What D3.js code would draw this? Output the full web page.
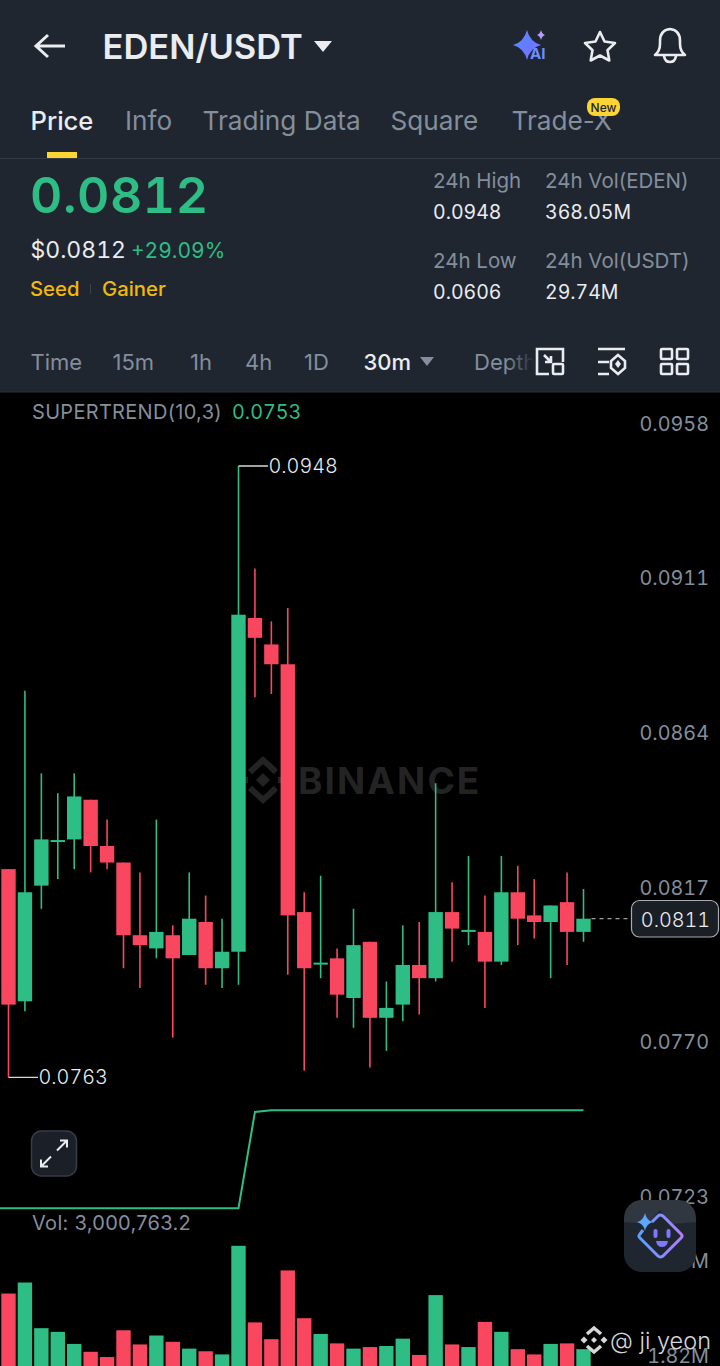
<!DOCTYPE html>
<html>
<head>
<meta charset="utf-8">
<title>EDEN/USDT</title>
<script src="https://cdn.jsdelivr.net/npm/d3@7"></script>
<style>
  html, body { margin: 0; padding: 0; background: #000; overflow: hidden; }
  svg { display: block; font-family: Inter, "Noto Sans", sans-serif; }
  .num { font-variant-numeric: tabular-nums; }
</style>
</head>
<body>
<svg id="chart" width="720" height="1366"></svg>
<script>
// ---- candle data ----
const opens = [0.0826, 0.0786, 0.0821, 0.08345, 0.0835, 0.0847, 0.0833, 0.0828, 0.0806, 0.0802, 0.0806, 0.0800,
  0.0810, 0.0796, 0.0801, 0.0902, 0.0894, 0.0888, 0.0813, 0.07974, 0.0799, 0.0787, 0.0804, 0.0781,
  0.0785, 0.0797, 0.0793, 0.0813, 0.08073, 0.0807, 0.0798, 0.0819, 0.0812, 0.0810, 0.0816, 0.0807];
const closes = [0.0785, 0.0819, 0.0835, 0.08345, 0.0848, 0.0833, 0.0828, 0.0806, 0.0803, 0.0807, 0.0799, 0.0811,
  0.0796, 0.0801, 0.0903, 0.0896, 0.0888, 0.0812, 0.0796, 0.07974, 0.0788, 0.0803, 0.0781, 0.0784,
  0.0797, 0.0793, 0.0813, 0.0808, 0.08073, 0.0798, 0.0819, 0.0811, 0.0810, 0.0815, 0.0807, 0.0811];
const highs = [0.0826, 0.0880, 0.0855, 0.0849, 0.0855, 0.0847, 0.0841, 0.0828, 0.0825, 0.0841, 0.0809, 0.0825,
  0.0818, 0.0811, 0.0948, 0.0917, 0.0901, 0.0905, 0.0819, 0.0824, 0.0802, 0.0814, 0.0804, 0.0792,
  0.0809, 0.0810, 0.0852, 0.0822, 0.0830, 0.0818, 0.0830, 0.0827, 0.0823, 0.0815, 0.0825, 0.0820];
const lows = [0.0763, 0.0783, 0.0814, 0.0823, 0.0826, 0.0825, 0.0826, 0.0796, 0.0790, 0.0799, 0.0775, 0.0800,
  0.0791, 0.0790, 0.0791, 0.0878, 0.0879, 0.0794, 0.0765, 0.0793, 0.0781, 0.0778, 0.0766, 0.0771,
  0.0780, 0.0782, 0.0792, 0.0798, 0.0803, 0.0784, 0.0797, 0.0803, 0.0805, 0.0793, 0.0797, 0.0804];
// volumes in millions
const volumes = [3.22, 3.43, 2.56, 2.49, 2.26, 2.11, 2.01, 2.52, 2.25, 2.42, 2.30, 2.17,
  2.12, 2.06, 4.13, 2.67, 2.35, 3.66, 2.75, 2.45, 2.27, 2.17, 2.20, 2.22,
  2.36, 2.05, 3.19, 2.25, 2.20, 2.68, 2.49, 2.16, 2.06, 2.26, 2.27, 2.16];
// the first value is the candle scrolled off the left edge
const supertrend = [0.07234, 0.07234, 0.07234, 0.07234, 0.07234, 0.07234, 0.07234, 0.07234, 0.07234, 0.07234, 0.07234, 0.07234,
  0.07234, 0.07234, 0.07234, 0.07234, 0.07525, 0.0753, 0.0753, 0.0753, 0.0753, 0.0753, 0.0753, 0.0753,
  0.0753, 0.0753, 0.0753, 0.0753, 0.0753, 0.0753, 0.0753, 0.0753, 0.0753, 0.0753, 0.0753, 0.0753, 0.0753];
const priceTicks = ['0.0958', '0.0911', '0.0864', '0.0817', '0.0770', '0.0723'];
const volumeTicks = [1.82, 3.64];
const tabs = ['Price', 'Info', 'Trading Data', 'Square', 'Trade-X'];
const intervals = ['Time', '15m', '1h', '4h', '1D', '30m'];

const GREEN = '#2EBD85', RED = '#F9475F', GREY = '#848E9C', WHITE = '#EAECEF', PANEL = '#1F2630';

const svg = d3.select('#chart');

const x = d3.scaleLinear().domain([0, 35]).range([8.5, 583.5]);
const y = d3.scaleLinear().domain([0.0948, 0.0763]).range([466, 1077.3]);
const yLabels = d3.scalePoint().domain(priceTicks).range([424, 1197]);
const yVol = d3.scaleLinear().domain([1.82, 3.64]).range([1367, 1271.5]);

const defs = svg.append('defs');
function gradient(id, stops, x2, y2) {
  const g = defs.append('linearGradient').attr('id', id).attr('x1', 0).attr('y1', 0).attr('x2', x2).attr('y2', y2);
  stops.forEach((s) => g.append('stop').attr('offset', s[0]).attr('stop-color', s[1]).attr('stop-opacity', s[2] === undefined ? 1 : s[2]));
}
gradient('aiStar', [[0, '#4F8DFF'], [1, '#7D6BFF']], 1, 1);
gradient('faceStroke', [[0, '#5AA0FF'], [1, '#B27DFF']], 1, 0);
gradient('depthFade', [[0, PANEL, 0], [1, PANEL, 1]], 1, 0);

function label(parent, str, px, py, size, color, opts = {}) {
  return parent.append('text')
    .attr('class', opts.num ? 'num' : null)
    .attr('x', px).attr('y', py)
    .attr('dominant-baseline', 'central')
    .attr('text-anchor', opts.anchor || 'start')
    .attr('font-size', size)
    .attr('font-weight', opts.weight || 400)
    .attr('letter-spacing', opts.spacing || 0)
    .attr('fill', color)
    .text(str);
}

// ---- chart area ----
const chart = svg.append('g');
chart.append('rect').attr('width', 720).attr('height', 1366).attr('fill', '#000');

// watermark
const mark = chart.append('g').attr('transform', 'translate(263,780)').attr('fill', 'none').attr('stroke', '#232323');
mark.append('path').attr('stroke-width', 6).attr('d', 'M-13,-8L0,-20L13,-8M-13,8L0,20L13,8M-19,0L-15,0M15,0L19,0');
mark.append('path').attr('stroke-width', 0).attr('fill', '#232323').attr('d', 'M0,-7L7,0L0,7L-7,0Z');
label(chart, 'BINANCE', 298, 780, 37, '#232323', { weight: 700, spacing: 2.1 });

// supertrend line
const stLine = d3.line().x((d, i) => x(i - 1)).y((d) => y(d));
chart.append('path').datum(supertrend).attr('d', stLine)
  .attr('fill', 'none').attr('stroke', GREEN).attr('stroke-width', 2);

// candles
const idx = d3.range(opens.length);
const colorOf = (i) => (closes[i] >= opens[i] ? GREEN : RED);
chart.append('g').selectAll('line').data(idx).join('line')
  .attr('x1', (i) => x(i)).attr('x2', (i) => x(i))
  .attr('y1', (i) => y(highs[i])).attr('y2', (i) => y(lows[i]))
  .attr('stroke', colorOf).attr('stroke-width', 1.6);
chart.append('g').selectAll('rect').data(idx).join('rect')
  .attr('x', (i) => x(i) - 7.2).attr('width', 14.4)
  .attr('y', (i) => (opens[i] === closes[i] ? y(opens[i]) - 1 : y(Math.max(opens[i], closes[i]))))
  .attr('height', (i) => (opens[i] === closes[i] ? 2 : Math.abs(y(opens[i]) - y(closes[i]))))
  .attr('fill', colorOf);

// volume bars run past the bottom of the screen
chart.append('g').selectAll('rect').data(idx).join('rect')
  .attr('x', (i) => x(i) - 7.2).attr('width', 14.4)
  .attr('y', (i) => yVol(volumes[i]))
  .attr('height', (i) => 1366 - yVol(volumes[i]))
  .attr('fill', colorOf);

// price axis
const priceAxis = chart.append('g').attr('transform', 'translate(709,0)')
  .call(d3.axisRight(yLabels).tickSize(0).tickPadding(0));
priceAxis.select('.domain').remove();
priceAxis.selectAll('text').attr('class', 'num').attr('text-anchor', 'end').attr('font-size', 19.8).attr('fill', GREY)
  .attr('font-family', 'Inter, sans-serif');

// volume axis
const volAxis = chart.append('g').attr('transform', 'translate(709,-10.5)')
  .call(d3.axisRight(yVol).tickValues(volumeTicks).tickFormat((d) => d + 'M').tickSize(0).tickPadding(0));
volAxis.select('.domain').remove();
volAxis.selectAll('text').attr('class', 'num').attr('text-anchor', 'end').attr('font-size', 19.8).attr('fill', GREY)
  .attr('font-family', 'Inter, sans-serif');

// high / low markers
chart.append('path').attr('fill', 'none').attr('stroke', '#D5D8DC').attr('stroke-width', 1.3)
  .attr('d', `M${x(14)},${y(0.0948)}H268M${x(0)},${y(0.0763)}H38`);
label(chart, '0.0948', 268.5, y(0.0948), 19.8, WHITE, { num: true, weight: 300 });
label(chart, '0.0763', 38.5, y(0.0763), 19.8, WHITE, { num: true, weight: 300 });

// last price
const lastY = y(0.0811);
chart.append('line').attr('x1', x(35) + 8).attr('x2', 628).attr('y1', lastY).attr('y2', lastY)
  .attr('stroke', '#9aa0a8').attr('stroke-width', 1.2).attr('stroke-dasharray', '4 4');
chart.append('rect').attr('x', 631.5).attr('y', 900.5).attr('width', 87).attr('height', 36.5).attr('rx', 8)
  .attr('fill', '#1A1E25').attr('stroke', '#A8ACB2').attr('stroke-width', 1.2);
label(chart, '0.0811', 675.5, lastY + 1, 19.8, WHITE, { anchor: 'middle', num: true, weight: 300 });

// chart captions
label(chart, 'SUPERTREND(10,3)', 32, 412, 20, GREY, { spacing: 0.3 });
label(chart, '0.0753', 232, 412, 19.8, GREEN, { num: true });
label(chart, 'Vol: 3,000,763.2', 32, 1222.5, 20, GREY, { spacing: 0.3 });

// expand button
const expand = chart.append('g').attr('transform', 'translate(54,1153.5)');
expand.append('rect').attr('x', -22.5).attr('y', -22.5).attr('width', 45).attr('height', 45).attr('rx', 10)
  .attr('fill', '#1B1F27').attr('stroke', '#363C48').attr('stroke-width', 1.5);
expand.append('path').attr('fill', 'none').attr('stroke', '#EAECEF').attr('stroke-width', 2)
  .attr('d', 'M3,-3L13,-13M6,-13H13V-6M-3,3L-13,13M-13,6V13H-6');

// floating assistant button
const bot = chart.append('g').attr('transform', 'translate(660,1236)');
bot.append('rect').attr('x', -36).attr('y', -36).attr('width', 72).attr('height', 72).attr('rx', 18).attr('fill', PANEL);
bot.append('path').attr('fill', 'rgba(255,255,255,0.08)')
  .attr('d', 'M-36,-14V-18A18,18,0,0,1,-18,-36H18A18,18,0,0,1,36,-18V-14L12,-12L0,-26L-12,-12Z');
bot.append('path').attr('fill', 'none').attr('stroke', 'url(#faceStroke)').attr('stroke-width', 3).attr('stroke-linejoin', 'round')
  .attr('d', 'M-8,-14L-2,-20Q0,-22,3,-20L21,-2Q23,0,21,2L3,20Q0,22,-2,20L-20,2Q-22,0,-20,-2L-17,-6');
bot.append('path').attr('fill', '#5CA8FF').attr('d', 'M-15,-23Q-13.5,-15.5,-7,-14Q-13.5,-12.5,-15,-5Q-16.5,-12.5,-23,-14Q-16.5,-15.5,-15,-23Z');
bot.append('rect').attr('x', -6.5).attr('y', -7).attr('width', 4).attr('height', 9).attr('rx', 2).attr('fill', '#7D78FF');
bot.append('rect').attr('x', 6.5).attr('y', -7).attr('width', 4).attr('height', 9).attr('rx', 2).attr('fill', '#7D78FF');
bot.append('path').attr('fill', '#7D78FF').attr('d', 'M-4,5H8Q7,11,2,11Q-3,11,-4,5Z');

// repost stamp
const stamp = chart.append('g').attr('transform', 'translate(594,1340)').attr('fill', '#D5D7DA');
[[-10, 0], [10, 0]].forEach((p) => {
  stamp.append('path').attr('transform', `translate(${p[0]},${p[1]})`).attr('d', 'M0,-3.5L3.5,0L0,3.5L-3.5,0Z');
});
stamp.append('path').attr('fill', 'none').attr('stroke', '#D5D7DA').attr('stroke-width', 3.5)
  .attr('d', 'M-7,-6L0,-12L7,-6M-7,6L0,12L7,6');
stamp.append('path').attr('d', 'M0,-3L3,0L0,3L-3,0Z');
label(chart, '@ ji yeon', 711, 1340, 23.5, '#D5D7DA', { anchor: 'end', weight: 300 });

// ---- header panel ----
const head = svg.append('g');
head.append('rect').attr('width', 720).attr('height', 392).attr('fill', PANEL);
head.append('line').attr('x1', 0).attr('x2', 720).attr('y1', 158.5).attr('y2', 158.5).attr('stroke', '#333A45');
head.append('line').attr('x1', 0).attr('x2', 720).attr('y1', 392).attr('y2', 392).attr('stroke', '#2B313B');

head.append('path').attr('fill', 'none').attr('stroke', WHITE).attr('stroke-width', 3)
  .attr('d', 'M65,46H37M48,35L36,46L48,57');
label(head, 'EDEN/USDT', 102.5, 46, 34.5, WHITE, { weight: 600 });
head.append('path').attr('fill', WHITE).attr('d', 'M314,41H332L323,52Z');

// AI sparkle
head.append('path').attr('fill', 'url(#aiStar)').attr('d', 'M527,30Q530,42,541,45Q530,48,527,60Q524,48,513,45Q524,42,527,30Z');
head.append('path').attr('fill', '#B79CFF').attr('d', 'M541,30Q542,34,545,35Q542,36,541,40Q540,36,537,35Q540,34,541,30Z');
label(head, 'AI', 530, 53, 15, '#6F8CFF', { weight: 700 });
// star
head.append('path').attr('fill', 'none').attr('stroke', WHITE).attr('stroke-width', 2.6).attr('stroke-linejoin', 'round')
  .attr('d', 'M600,32L604.5,41.5L615,43L607.5,50.3L609.3,60.5L600,55.5L590.7,60.5L592.5,50.3L585,43L595.5,41.5Z');
// bell
head.append('path').attr('fill', 'none').attr('stroke', WHITE).attr('stroke-width', 2.6).attr('stroke-linejoin', 'round')
  .attr('d', 'M655,55Q660,51,660,44V41Q660,30,670,29Q680,30,680,41V44Q680,51,685,55ZM664,56Q665,62,670,62Q675,62,676,56');

// tabs
const tabX = [30.5, 125, 202.5, 390.5, 511.5];
tabs.forEach((t, i) => label(head, t, tabX[i], 120.5, i === 0 ? 25.6 : 26.2, i === 0 ? WHITE : GREY, { weight: i === 0 ? 500 : 400 }));
head.append('rect').attr('x', 47).attr('y', 152).attr('width', 30).attr('height', 6).attr('fill', '#FCD535');
head.append('rect').attr('x', 587).attr('y', 98).attr('width', 33).attr('height', 18).attr('rx', 8).attr('fill', '#FCD535');
label(head, 'New', 603.5, 107, 12, '#1E2329', { anchor: 'middle', weight: 500 });

// price block
label(head, '0.0812', 30, 195, 50, GREEN, { weight: 600, spacing: 0.6, num: true });
label(head, '$0.0812', 30.5, 250, 23, WHITE, { num: true });
label(head, '+29.09%', 131, 250, 21, GREEN, { num: true });
label(head, 'Seed', 30, 288.5, 20.3, '#F0B90B', { weight: 500 });
head.append('line').attr('x1', 90.5).attr('x2', 90.5).attr('y1', 284).attr('y2', 294).attr('stroke', '#3A424E');
label(head, 'Gainer', 102, 288.5, 20.3, '#F0B90B', { weight: 500 });

// 24h stats
label(head, '24h High', 433, 180, 20.5, GREY);
label(head, '0.0948', 433, 212, 19.5, WHITE, { num: true });
label(head, '24h Vol(EDEN)', 545, 180, 20.5, GREY);
label(head, '368.05M', 545, 212, 19.5, WHITE, { num: true });
label(head, '24h Low', 433, 260, 20.5, GREY);
label(head, '0.0606', 433, 292, 19.5, WHITE, { num: true });
label(head, '24h Vol(USDT)', 545, 260, 20.5, GREY);
label(head, '29.74M', 545, 292, 19.5, WHITE, { num: true });

// interval row
const intervalX = [30.5, 112.5, 190, 245, 304, 363.5];
intervals.forEach((t, i) => label(head, t, intervalX[i], 362, 22, i === 5 ? WHITE : GREY, { weight: i === 5 ? 500 : 400 }));
head.append('path').attr('fill', GREY).attr('d', 'M420,357H434L427,366Z');
label(head, 'Depth', 474, 362, 22, GREY);
head.append('rect').attr('x', 505).attr('y', 345).attr('width', 30).attr('height', 36).attr('fill', 'url(#depthFade)');

// toolbar icons
const tools = head.append('g').attr('fill', 'none').attr('stroke', WHITE).attr('stroke-width', 2.6);
tools.append('path').attr('d', 'M537,362V349H563V362M537,362V374H549M544,355L551,362M551,356V362H545');
tools.append('rect').attr('x', 553).attr('y', 364).attr('width', 10).attr('height', 10).attr('rx', 1);
tools.append('path').attr('d', 'M598,349H625M598,362H609M598,374H609');
tools.append('path').attr('d', 'M618,355L625,361V368L618,374L611,368V361Z');
tools.append('path').attr('fill', WHITE).attr('stroke', 'none').attr('d', 'M618,360L621,364L618,368L615,364Z');
[[661, 349], [677, 349], [661, 364], [677, 364]].forEach((p) => {
  tools.append('rect').attr('x', p[0]).attr('y', p[1]).attr('width', 11).attr('height', 10).attr('rx', 1);
});
</script>
</body>
</html>
